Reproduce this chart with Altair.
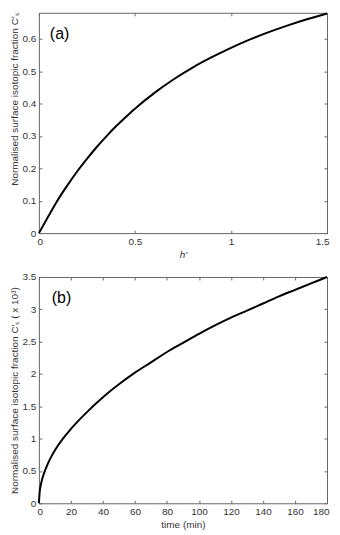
import altair as alt
import pandas as pd

# Panel (a): normalised surface isotopic fraction vs h'
h_vals = [0.0, 0.05, 0.1, 0.15, 0.2, 0.25, 0.3, 0.35, 0.4, 0.45, 0.5, 0.6, 0.7, 0.8, 0.9,
          1.0, 1.1, 1.2, 1.3, 1.4, 1.5]
cs_a = [0.0, 0.053, 0.104, 0.149, 0.191, 0.229, 0.265, 0.298, 0.329, 0.357, 0.384, 0.432,
        0.474, 0.511, 0.543, 0.572, 0.598, 0.621, 0.642, 0.661, 0.678]

# Panel (b): normalised surface isotopic fraction (x 10^3) vs time
t_vals = [0, 0.5, 1, 2, 3, 5, 7.5, 10, 15, 20, 30, 40, 50, 60, 70, 80, 90, 100, 110, 120,
          130, 140, 150, 160, 170, 180]
cs_b = [0.0, 0.18, 0.26, 0.37, 0.45, 0.58, 0.71, 0.82, 1.0, 1.15, 1.41, 1.64, 1.84, 2.02,
        2.18, 2.34, 2.48, 2.62, 2.75, 2.87, 2.98, 3.09, 3.2, 3.3, 3.4, 3.5]

xticks_a = [0, 0.5, 1, 1.5]
yticks_a = [0, 0.1, 0.2, 0.3, 0.4, 0.5, 0.6]
xticks_b = [0, 20, 40, 60, 80, 100, 120, 140, 160, 180]
yticks_b = [0, 0.5, 1, 1.5, 2, 2.5, 3, 3.5]

FONT = "Liberation Sans"


def panel(df, xdom, ydom, xticks, yticks, xtitle, ytitle, italic, height, label, lx, ly, anchor):
    xs = alt.Scale(domain=xdom, nice=False, zero=False)
    ys = alt.Scale(domain=ydom, nice=False)
    base = alt.Chart(df)
    line = base.mark_line(color="black", strokeWidth=2, interpolate="monotone").encode(
        x=alt.X("x:Q", scale=xs,
                axis=alt.Axis(values=xticks, format="~r", title=xtitle, orient="bottom",
                              labelFlush=True, labelFlushOffset=2,
                              titleFontStyle="italic" if italic else "normal")),
        y=alt.Y("y:Q", scale=ys,
                axis=alt.Axis(values=yticks, format="~r", title=ytitle, orient="left",
                              titleAnchor=anchor)),
    )
    mirror = base.mark_line(opacity=0).encode(
        x=alt.X("x:Q", scale=xs, axis=alt.Axis(values=xticks, orient="top", labels=False, title=None)),
        y=alt.Y("y:Q", scale=ys, axis=alt.Axis(values=yticks, orient="right", labels=False, title=None)),
    )
    text = alt.Chart(alt.Data(values=[{}])).mark_text(
        text=label, fontSize=16, font=FONT, align="left", baseline="middle", color="black"
    ).encode(
        x=alt.X(datum=lx, type="quantitative", scale=xs, axis=None),
        y=alt.Y(datum=ly, type="quantitative", scale=ys, axis=None),
    )
    return alt.layer(line, mirror, text).resolve_axis(x="independent", y="independent").properties(
        width=289, height=height
    )


df_a = pd.DataFrame({"x": h_vals, "y": cs_a})
df_b = pd.DataFrame({"x": t_vals, "y": cs_b})

top = panel(df_a, [0, 1.5], [0, 0.68], xticks_a, yticks_a, "h'",
            "Normalised surface isotopic fraction  C′ₛ", True, 221, "(a)", 0.057, 0.615, "end")
bottom = panel(df_b, [0, 180], [0, 3.5], xticks_b, yticks_b, "time (min)",
               "Normalised surface isotopic fraction  C′ₛ ( x 10³)", False, 227, "(b)", 8.0, 3.18, "middle")

chart = alt.vconcat(top, bottom, spacing=44, bounds="flush").properties(
    padding={"left": 0, "top": 0, "right": 0, "bottom": 0}
).configure_view(
    stroke="#666666", strokeWidth=1
).configure_axis(
    domain=False, grid=False, ticks=True, tickColor="#666666", tickSize=3, offset=-3,
    labelFont=FONT, labelFontSize=10, labelColor="#333333", labelPadding=3,
    labelOverlap=False, labelFlush=False,
    titleFont=FONT, titleFontSize=10, titleColor="#333333", titleFontWeight="normal",
    titlePadding=3,
)

chart.save("out.html", embed_options={"renderer": "svg", "actions": False})
